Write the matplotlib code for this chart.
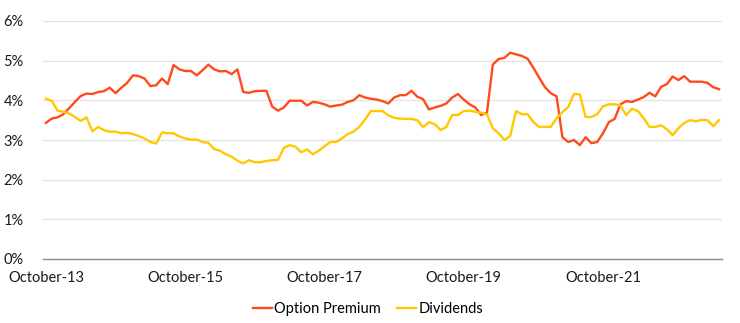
import matplotlib
matplotlib.use("Agg")
import matplotlib.pyplot as plt
import numpy as np

# Monthly data, October 2013 .. June 2023 (values in %)
option_premium = [
    3.43, 3.54, 3.57, 3.65, 3.80, 3.96, 4.11, 4.17, 4.16, 4.21,
    4.23, 4.32, 4.18, 4.32, 4.44, 4.63, 4.61, 4.55, 4.36, 4.38,
    4.55, 4.41, 4.89, 4.78, 4.74, 4.74, 4.63, 4.76, 4.90, 4.78,
    4.73, 4.74, 4.66, 4.78, 4.21, 4.19, 4.23, 4.24, 4.24, 3.84,
    3.74, 3.82, 3.99, 3.99, 3.99, 3.87, 3.96, 3.94, 3.90, 3.84,
    3.87, 3.89, 3.96, 4.00, 4.13, 4.07, 4.04, 4.02, 3.98, 3.92,
    4.07, 4.13, 4.13, 4.24, 4.09, 4.03, 3.77, 3.82, 3.86, 3.92,
    4.07, 4.16, 4.02, 3.90, 3.82, 3.63, 3.69, 4.90, 5.04, 5.07,
    5.20, 5.16, 5.12, 5.05, 4.82, 4.57, 4.33, 4.18, 4.10, 3.07,
    2.95, 3.00, 2.87, 3.07, 2.92, 2.95, 3.17, 3.45, 3.53, 3.90,
    3.98, 3.96, 4.02, 4.08, 4.19, 4.10, 4.34, 4.41, 4.60, 4.51,
    4.61, 4.47, 4.47, 4.47, 4.44, 4.33, 4.28,
]
dividends = [
    4.04, 3.99, 3.74, 3.71, 3.67, 3.58, 3.48, 3.57, 3.22, 3.33,
    3.25, 3.21, 3.21, 3.17, 3.18, 3.15, 3.10, 3.04, 2.95, 2.91,
    3.19, 3.17, 3.17, 3.09, 3.04, 3.01, 3.01, 2.95, 2.93, 2.77,
    2.73, 2.64, 2.58, 2.48, 2.41, 2.49, 2.44, 2.44, 2.47, 2.49,
    2.50, 2.80, 2.87, 2.83, 2.69, 2.76, 2.64, 2.73, 2.84, 2.95,
    2.95, 3.04, 3.15, 3.21, 3.33, 3.52, 3.73, 3.73, 3.73, 3.62,
    3.56, 3.54, 3.53, 3.53, 3.50, 3.32, 3.45, 3.40, 3.25, 3.33,
    3.63, 3.63, 3.73, 3.74, 3.71, 3.69, 3.65, 3.30, 3.17, 3.00,
    3.10, 3.73, 3.65, 3.65, 3.45, 3.33, 3.33, 3.33, 3.55, 3.70,
    3.83, 4.16, 4.15, 3.58, 3.58, 3.65, 3.85, 3.90, 3.90, 3.87,
    3.63, 3.79, 3.73, 3.55, 3.33, 3.33, 3.37, 3.27, 3.12, 3.30,
    3.43, 3.50, 3.47, 3.51, 3.50, 3.35, 3.50,
]
tick_positions = [0, 24, 48, 72, 96]
tick_labels = ["October-13", "October-15", "October-17", "October-19", "October-21"]
y_ticks = [0, 1, 2, 3, 4, 5, 6]

plt.rcParams['font.family'] = ['Lato', 'DejaVu Sans']

fig = plt.figure(figsize=(7.4, 3.23), dpi=100)
ax = fig.add_axes([43 / 740, 1 - 259 / 323, (722 - 43) / 740, (259 - 21) / 323])

x = np.arange(len(option_premium))
ax.plot(x, option_premium, color='#FF4A1C', lw=1.7, label='Option Premium', solid_joinstyle='round')
ax.plot(x, dividends, color='#FFC800', lw=1.7, label='Dividends', solid_joinstyle='round')

ax.set_xlim(-0.5, len(option_premium) - 0.5)
ax.set_ylim(0, 6)
ax.set_yticks(y_ticks)
ax.set_yticklabels([f"{v}%" for v in y_ticks])
ax.set_xticks(tick_positions)
ax.set_xticklabels(tick_labels)

ax.grid(axis='y', color='#E3E3E3', lw=0.9)
ax.set_axisbelow(True)
for s in ['top', 'right', 'left']:
    ax.spines[s].set_visible(False)
ax.spines['bottom'].set_color('#8C8C8C')
ax.spines['bottom'].set_linewidth(1.0)
ax.tick_params(axis='both', length=0, labelsize=10.5, colors='#1A1A1A')
ax.tick_params(axis='y', pad=14)
ax.tick_params(axis='x', pad=9)

ax.legend(loc='upper center', bbox_to_anchor=(0.479, -0.125), ncol=2, frameon=False,
          fontsize=10.5, handlelength=1.3, handletextpad=0.15, columnspacing=1.1)

fig.savefig('out.png', dpi=100)
